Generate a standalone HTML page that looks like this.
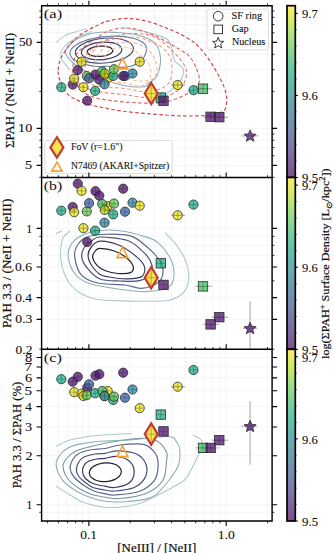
<!DOCTYPE html>
<html><head><meta charset="utf-8"><style>
html,body{margin:0;padding:0;background:#fff;width:334px;height:553px;overflow:hidden}
svg{display:block}
text{font-family:"Liberation Serif",serif}
</style></head><body><svg width="334" height="553" viewBox="0 0 334 553">
<rect width="334" height="553" fill="#fff"/>
<defs>
<clipPath id="cp0"><rect x="41.6" y="5.7" width="230.5" height="171.8"/></clipPath>
<clipPath id="cp1"><rect x="41.6" y="177.5" width="230.5" height="171.8"/></clipPath>
<clipPath id="cp2"><rect x="41.6" y="349.3" width="230.5" height="171.7"/></clipPath>
<linearGradient id="vir" x1="0" y1="1" x2="0" y2="0"><stop offset="0.0" stop-color="#7c4d87"/><stop offset="0.1" stop-color="#7f669e"/><stop offset="0.2" stop-color="#7a7cab"/><stop offset="0.3" stop-color="#728faf"/><stop offset="0.4" stop-color="#6aa0b0"/><stop offset="0.5" stop-color="#64b2ae"/><stop offset="0.6" stop-color="#64c2a9"/><stop offset="0.7" stop-color="#7cd29b"/><stop offset="0.8" stop-color="#a2df85"/><stop offset="0.9" stop-color="#d1e967"/><stop offset="1.0" stop-color="#feee66"/></linearGradient>
</defs>
<path d="M47.6 5.7V177.5M58.4 5.7V177.5M67.6 5.7V177.5M75.6 5.7V177.5M82.6 5.7V177.5M88.9 5.7V177.5M130.2 5.7V177.5M154.4 5.7V177.5M171.6 5.7V177.5M184.9 5.7V177.5M195.7 5.7V177.5M204.9 5.7V177.5M212.9 5.7V177.5M219.9 5.7V177.5M226.2 5.7V177.5M267.5 5.7V177.5M41.6 165.4H272.1M41.6 155.7H272.1M41.6 147.5H272.1M41.6 140.3H272.1M41.6 134.0H272.1M41.6 128.4H272.1M41.6 91.4H272.1M41.6 69.7H272.1M41.6 54.3H272.1M41.6 42.4H272.1M41.6 32.7H272.1M41.6 24.5H272.1M41.6 17.3H272.1M41.6 11.0H272.1" stroke="#f2f2f2" stroke-width="0.8" fill="none"/>
<path d="M47.6 177.5V349.3M58.4 177.5V349.3M67.6 177.5V349.3M75.6 177.5V349.3M82.6 177.5V349.3M88.9 177.5V349.3M130.2 177.5V349.3M154.4 177.5V349.3M171.6 177.5V349.3M184.9 177.5V349.3M195.7 177.5V349.3M204.9 177.5V349.3M212.9 177.5V349.3M219.9 177.5V349.3M226.2 177.5V349.3M267.5 177.5V349.3M41.6 319.4H272.1M41.6 297.6H272.1M41.6 280.8H272.1M41.6 267.0H272.1M41.6 255.4H272.1M41.6 245.3H272.1M41.6 236.4H272.1M41.6 228.4H272.1" stroke="#f2f2f2" stroke-width="0.8" fill="none"/>
<path d="M47.6 349.3V521.0M58.4 349.3V521.0M67.6 349.3V521.0M75.6 349.3V521.0M82.6 349.3V521.0M88.9 349.3V521.0M130.2 349.3V521.0M154.4 349.3V521.0M171.6 349.3V521.0M184.9 349.3V521.0M195.7 349.3V521.0M204.9 349.3V521.0M212.9 349.3V521.0M219.9 349.3V521.0M226.2 349.3V521.0M267.5 349.3V521.0M41.6 512.3H272.1M41.6 504.8H272.1M41.6 455.7H272.1M41.6 427.0H272.1M41.6 406.6H272.1M41.6 390.8H272.1M41.6 377.9H272.1M41.6 367.0H272.1M41.6 357.5H272.1" stroke="#f2f2f2" stroke-width="0.8" fill="none"/>
<path d="M112.8 50.6C112.8 50.9 112.7 51.2 112.6 51.5C112.5 51.8 112.3 52.1 112.0 52.4C111.8 52.7 111.5 53.0 111.1 53.2C110.7 53.5 110.3 53.8 109.8 54.1C109.3 54.3 108.8 54.6 108.2 54.8C107.7 55.0 107.0 55.2 106.4 55.4C105.8 55.6 105.1 55.7 104.4 55.9C103.7 56.0 103.0 56.1 102.2 56.2C101.5 56.3 100.7 56.4 100.0 56.4C99.3 56.4 98.5 56.4 97.8 56.4C97.0 56.4 96.3 56.4 95.6 56.3C94.9 56.2 94.2 56.1 93.6 56.0C93.0 55.9 92.3 55.8 91.8 55.6C91.2 55.4 90.7 55.2 90.2 55.0C89.7 54.8 89.3 54.6 88.9 54.4C88.5 54.1 88.2 53.9 88.0 53.6C87.7 53.3 87.5 53.0 87.4 52.7C87.3 52.4 87.2 52.1 87.2 51.8C87.2 51.5 87.3 51.2 87.4 50.9C87.5 50.6 87.7 50.3 88.0 50.1C88.2 49.8 88.5 49.5 88.9 49.2C89.3 48.9 89.7 48.7 90.2 48.4C90.7 48.2 91.2 47.9 91.8 47.7C92.3 47.5 93.0 47.3 93.6 47.1C94.2 46.9 94.9 46.8 95.6 46.6C96.3 46.5 97.0 46.4 97.8 46.3C98.5 46.2 99.3 46.1 100.0 46.1C100.7 46.1 101.5 46.1 102.2 46.1C103.0 46.1 103.7 46.1 104.4 46.2C105.1 46.3 105.8 46.3 106.4 46.5C107.0 46.6 107.7 46.7 108.2 46.9C108.8 47.0 109.3 47.2 109.8 47.4C110.3 47.6 110.7 47.9 111.1 48.1C111.5 48.3 111.8 48.6 112.0 48.9C112.3 49.1 112.5 49.4 112.6 49.7C112.7 50.0 112.8 50.3 112.8 50.6Z" stroke="#20202e" stroke-width="1.20" fill="none" clip-path="url(#cp0)"/>
<path d="M121.8 49.6C121.8 50.1 121.7 50.6 121.5 51.1C121.3 51.7 121.0 52.2 120.6 52.7C120.2 53.2 119.7 53.7 119.1 54.1C118.6 54.6 117.9 55.1 117.2 55.5C116.4 56.0 115.6 56.4 114.7 56.8C113.8 57.2 112.9 57.5 111.9 57.8C110.9 58.2 109.8 58.5 108.8 58.7C107.7 58.9 106.6 59.2 105.4 59.3C104.3 59.5 103.2 59.6 102.0 59.7C100.8 59.8 99.6 59.8 98.4 59.8C97.2 59.8 96.1 59.8 95.0 59.7C93.8 59.6 92.7 59.4 91.7 59.3C90.7 59.1 89.7 58.9 88.8 58.6C87.8 58.3 87.0 58.0 86.2 57.7C85.5 57.4 84.8 57.0 84.2 56.6C83.6 56.2 83.1 55.8 82.6 55.3C82.2 54.9 81.9 54.4 81.7 53.9C81.5 53.4 81.4 52.9 81.4 52.4C81.4 51.9 81.5 51.4 81.7 50.9C81.9 50.4 82.2 49.9 82.6 49.3C83.1 48.8 83.6 48.3 84.2 47.8C84.8 47.4 85.5 46.9 86.2 46.4C87.0 46.0 87.8 45.6 88.8 45.2C89.7 44.8 90.7 44.4 91.7 44.1C92.7 43.8 93.8 43.5 95.0 43.2C96.1 43.0 97.2 42.8 98.4 42.6C99.6 42.4 100.8 42.3 102.0 42.2C103.2 42.1 104.3 42.1 105.4 42.1C106.6 42.1 107.7 42.2 108.8 42.3C109.8 42.4 110.9 42.5 111.9 42.7C112.9 42.9 113.8 43.1 114.7 43.4C115.6 43.6 116.4 43.9 117.2 44.3C117.9 44.6 118.6 45.0 119.1 45.4C119.7 45.8 120.2 46.2 120.6 46.7C121.0 47.1 121.3 47.6 121.5 48.1C121.7 48.6 121.8 49.1 121.8 49.6Z" stroke="#363a60" stroke-width="1.20" fill="none" clip-path="url(#cp0)"/>
<path d="M133.4 48.6C133.4 49.3 133.3 50.0 133.0 50.8C132.7 51.5 132.2 52.2 131.7 52.9C131.1 53.6 130.4 54.4 129.5 55.0C128.7 55.7 127.7 56.4 126.6 57.0C125.5 57.6 124.3 58.2 123.0 58.8C121.8 59.3 120.4 59.9 118.9 60.3C117.4 60.8 115.9 61.2 114.3 61.6C112.7 61.9 111.1 62.2 109.4 62.5C107.8 62.7 106.1 62.9 104.4 63.0C102.7 63.1 101.0 63.2 99.4 63.2C97.7 63.2 96.1 63.1 94.5 62.9C92.9 62.8 91.4 62.6 89.9 62.4C88.4 62.1 87.0 61.8 85.8 61.4C84.5 61.0 83.3 60.6 82.2 60.1C81.1 59.7 80.1 59.1 79.3 58.6C78.4 58.0 77.7 57.4 77.1 56.7C76.6 56.1 76.1 55.4 75.8 54.8C75.5 54.1 75.4 53.3 75.4 52.6C75.4 51.9 75.5 51.2 75.8 50.4C76.1 49.7 76.6 49.0 77.1 48.3C77.7 47.6 78.4 46.8 79.3 46.2C80.1 45.5 81.1 44.8 82.2 44.2C83.3 43.6 84.5 43.0 85.8 42.4C87.0 41.9 88.4 41.3 89.9 40.9C91.4 40.4 92.9 40.0 94.5 39.6C96.1 39.3 97.7 39.0 99.4 38.7C101.0 38.5 102.7 38.3 104.4 38.2C106.1 38.1 107.8 38.0 109.4 38.0C111.1 38.0 112.7 38.1 114.3 38.3C115.9 38.4 117.4 38.6 118.9 38.8C120.4 39.1 121.8 39.4 123.0 39.8C124.3 40.2 125.5 40.6 126.6 41.1C127.7 41.5 128.7 42.1 129.5 42.6C130.4 43.2 131.1 43.8 131.7 44.5C132.2 45.1 132.7 45.8 133.0 46.4C133.3 47.1 133.4 47.9 133.4 48.6Z" stroke="#3f4574" stroke-width="1.15" fill="none" clip-path="url(#cp0)"/>
<path d="M146.5 48.5C146.5 49.6 146.3 51.3 145.9 52.7C145.5 54.1 145.0 55.4 144.2 56.7C143.5 58.0 142.5 59.2 141.4 60.3C140.3 61.3 139.0 62.3 137.6 63.2C136.2 64.1 134.6 64.8 132.9 65.4C131.2 66.0 129.4 66.4 127.5 66.8C125.6 67.1 123.6 67.3 121.5 67.3C119.4 67.4 117.3 67.3 115.1 67.1C112.9 67.0 110.7 66.4 108.5 66.3C106.3 66.2 104.0 66.5 101.8 66.5C99.6 66.4 97.4 66.3 95.3 66.2C93.2 66.0 91.2 65.7 89.2 65.4C87.3 65.0 85.5 64.6 83.8 64.2C82.0 63.7 80.4 63.1 79.0 62.5C77.6 61.9 76.3 61.3 75.2 60.6C74.0 59.8 73.1 59.1 72.3 58.3C71.6 57.5 71.0 56.6 70.6 55.8C70.2 54.9 70.0 54.0 70.0 53.1C70.0 52.2 70.2 51.4 70.6 50.6C71.0 49.7 71.6 48.8 72.3 48.0C73.1 47.2 74.0 46.3 75.2 45.6C76.3 44.8 77.6 44.0 79.0 43.2C80.4 42.5 82.0 41.8 83.8 41.2C85.5 40.5 87.3 39.9 89.2 39.4C91.2 38.9 93.2 38.4 95.3 38.0C97.4 37.6 99.6 37.2 101.8 36.9C104.0 36.6 106.3 36.4 108.5 36.3C110.7 36.2 112.9 36.1 115.1 36.1C117.3 36.1 119.4 36.2 121.5 36.4C123.6 36.6 125.6 36.8 127.5 37.1C129.4 37.4 131.2 37.8 132.9 38.2C134.6 38.7 136.2 39.2 137.6 39.7C139.0 40.3 140.3 40.9 141.4 41.6C142.5 42.2 143.5 43.0 144.2 43.7C145.0 44.4 145.5 45.2 145.9 46.0C146.3 46.8 146.5 47.4 146.5 48.5Z" stroke="#637d96" stroke-width="1.10" fill="none" clip-path="url(#cp0)"/>
<path d="M66.0 54.5C64.0 51.0 66.3 49.5 68.0 47.0C69.7 44.5 72.7 41.6 76.0 39.5C79.3 37.4 84.0 35.7 88.0 34.5C92.0 33.3 95.5 32.6 100.0 32.3C104.5 31.9 109.2 32.0 115.0 32.4C120.8 32.8 129.2 33.3 135.0 34.5C140.8 35.7 146.3 37.6 150.0 39.5C153.7 41.4 155.4 43.9 157.0 46.0C158.6 48.1 158.9 49.3 159.5 52.0C160.1 54.7 160.9 58.0 160.5 62.0C160.1 66.0 158.8 72.6 157.0 76.0C155.2 79.4 152.2 80.7 150.0 82.5C147.8 84.3 147.7 86.2 143.5 86.7C139.3 87.2 131.4 86.9 125.0 85.8C118.6 84.7 112.5 83.0 105.0 80.0C97.5 77.0 86.5 72.2 80.0 68.0C73.5 63.8 68.0 58.0 66.0 54.5Z" stroke="#8aabb5" stroke-width="1.10" fill="none" clip-path="url(#cp0)"/>
<path d="M70.0 70.0C68.7 68.3 63.5 62.8 62.0 60.0C60.5 57.2 60.5 55.2 60.8 53.0C61.1 50.8 62.5 48.8 64.0 47.0C65.5 45.2 67.2 43.9 70.0 42.0C72.8 40.1 77.3 37.2 81.0 35.5C84.7 33.8 90.2 32.2 92.0 31.5" stroke="#abcbcb" stroke-width="1.10" fill="none" clip-path="url(#cp0)"/>
<path d="M56.0 42.6C57.7 41.3 62.2 36.9 66.0 35.0C69.8 33.1 75.4 32.1 78.7 31.0C82.0 29.9 84.8 28.9 86.0 28.5" stroke="#b9d4d4" stroke-width="1.10" fill="none" clip-path="url(#cp0)"/>
<path d="M124.4 27.8C128.7 28.7 142.8 31.1 150.0 33.0C157.2 35.0 163.8 36.7 167.5 39.5C171.2 42.3 170.8 46.5 172.0 50.0C173.2 53.5 172.7 57.7 174.5 60.8C176.3 63.9 181.9 65.4 183.0 68.5C184.1 71.6 183.3 75.7 181.0 79.6C178.7 83.5 172.4 88.9 169.0 91.8C165.6 94.7 164.0 96.0 160.8 97.2C157.6 98.4 151.8 98.7 150.0 99.0" stroke="#abcbcb" stroke-width="1.10" fill="none" clip-path="url(#cp0)"/>
<path d="M100.0 75.0C99.5 72.5 101.3 66.2 103.0 62.0C104.7 57.8 105.6 52.3 110.0 50.0C114.4 47.7 124.0 47.0 129.2 48.0C134.4 49.0 137.6 53.0 141.1 56.0C144.6 59.0 148.6 62.2 150.0 66.0C151.4 69.8 151.1 76.5 149.4 79.0C147.7 81.5 144.1 81.1 140.0 81.0C135.9 80.9 130.7 79.2 125.0 78.5C119.3 77.8 110.2 77.6 106.0 77.0C101.8 76.4 100.5 77.5 100.0 75.0Z" stroke="#f9c3a6" stroke-width="1.10" fill="none" stroke-dasharray="3.6,2.4" clip-path="url(#cp0)"/>
<path d="M92.0 80.0C91.5 77.8 92.0 72.2 93.0 68.0C94.0 63.8 95.2 58.9 98.0 55.0C100.8 51.1 104.0 46.5 110.0 44.5C116.0 42.5 127.6 42.1 134.0 43.0C140.4 43.9 144.6 46.8 148.3 50.0C152.0 53.2 154.7 57.8 156.0 62.0C157.3 66.2 157.3 71.7 156.0 75.0C154.7 78.3 151.1 80.1 148.4 82.0C145.7 83.9 143.9 86.2 140.0 86.4C136.1 86.6 130.7 83.7 125.0 83.0C119.3 82.3 110.6 82.5 105.8 82.2C101.0 81.9 98.3 81.4 96.0 81.0C93.7 80.6 92.5 82.2 92.0 80.0Z" stroke="#f6b092" stroke-width="1.10" fill="none" stroke-dasharray="3.6,2.4" clip-path="url(#cp0)"/>
<path d="M84.0 80.0C83.2 77.3 84.3 71.7 85.0 68.0C85.7 64.3 86.2 61.6 88.4 58.0C90.6 54.4 94.4 49.5 98.0 46.5C101.6 43.5 104.0 41.5 110.0 40.0C116.0 38.5 127.0 37.0 134.0 37.3C141.0 37.6 146.8 39.9 152.0 42.0C157.2 44.1 161.8 46.7 165.0 50.0C168.2 53.3 170.5 57.0 171.4 62.0C172.3 67.0 172.1 75.8 170.4 80.2C168.7 84.6 165.1 86.5 161.0 88.5C156.9 90.5 152.0 92.0 146.0 92.0C140.0 92.0 132.3 89.4 125.0 88.5C117.7 87.6 107.8 87.5 102.0 86.7C96.2 86.0 93.0 85.1 90.0 84.0C87.0 82.9 84.8 82.7 84.0 80.0Z" stroke="#f29b80" stroke-width="1.10" fill="none" stroke-dasharray="3.6,2.4" clip-path="url(#cp0)"/>
<path d="M78.0 82.0C76.7 78.7 77.5 71.7 78.0 68.0C78.5 64.3 79.0 62.8 81.0 60.0C83.0 57.2 87.2 53.6 90.0 51.0C92.8 48.4 93.8 46.8 98.0 44.4C102.2 42.0 109.0 38.3 115.0 36.5C121.0 34.7 127.3 33.4 134.0 33.5C140.7 33.6 148.4 33.9 155.0 37.0C161.6 40.1 168.5 47.1 173.5 52.0C178.5 56.9 182.9 62.2 185.0 66.5C187.1 70.8 186.8 74.3 186.0 78.0C185.2 81.7 183.2 85.5 180.0 88.5C176.8 91.5 172.7 94.5 167.0 96.0C161.3 97.5 153.0 97.7 146.0 97.5C139.0 97.3 132.7 95.6 125.0 94.7C117.3 93.8 106.5 93.1 100.0 92.0C93.5 90.9 89.7 89.7 86.0 88.0C82.3 86.3 79.3 85.3 78.0 82.0Z" stroke="#e98070" stroke-width="1.10" fill="none" stroke-dasharray="3.6,2.4" clip-path="url(#cp0)"/>
<path d="M73.0 79.0C71.9 75.3 72.5 70.0 73.0 66.0C73.5 62.0 74.3 58.1 76.0 55.0C77.7 51.9 79.5 50.4 83.0 47.5C86.5 44.6 92.5 40.3 97.0 37.5C101.5 34.7 105.0 32.1 110.0 30.5C115.0 28.9 121.0 27.8 127.0 28.0C133.0 28.2 139.7 29.8 146.0 32.0C152.3 34.2 159.0 37.8 165.0 41.0C171.0 44.2 177.8 48.3 182.0 51.0C186.2 53.7 187.7 54.2 190.0 57.0C192.3 59.8 194.4 63.8 196.0 67.5C197.6 71.2 199.3 76.4 199.5 79.5C199.7 82.6 198.1 84.2 197.0 86.0C195.9 87.8 196.3 88.3 193.0 90.4C189.7 92.5 182.8 96.4 177.0 98.5C171.2 100.6 166.7 102.4 158.0 103.0C149.3 103.6 134.7 102.7 125.0 102.0C115.3 101.3 106.2 100.0 100.0 98.8C93.8 97.6 91.2 96.5 87.8 94.7C84.4 92.9 82.1 90.6 79.6 88.0C77.1 85.4 74.1 82.7 73.0 79.0Z" stroke="#df6a5f" stroke-width="1.20" fill="none" stroke-dasharray="3.6,2.4" clip-path="url(#cp0)"/>
<path d="M58.2 70.0C58.4 66.3 59.0 62.2 61.0 58.0C63.0 53.8 66.8 48.3 70.0 44.5C73.2 40.7 75.7 38.1 80.0 35.0C84.3 31.9 91.0 28.4 96.0 26.0C101.0 23.6 104.5 21.8 110.0 20.5C115.5 19.2 122.7 18.3 129.0 18.5C135.3 18.7 142.0 20.0 148.0 21.5C154.0 23.0 159.7 25.4 165.0 27.5C170.3 29.6 175.7 31.9 180.0 34.0C184.3 36.1 188.2 38.6 191.0 40.4C193.8 42.2 194.7 42.7 197.0 45.0C199.3 47.3 202.2 50.2 205.0 54.0C207.8 57.8 211.3 63.0 214.0 67.5C216.7 72.0 219.4 76.8 221.4 81.0C223.4 85.2 225.2 89.3 226.0 93.0C226.8 96.7 226.8 100.1 226.5 103.0C226.2 105.9 226.4 108.6 224.0 110.6C221.6 112.5 217.7 113.8 212.0 114.7C206.3 115.6 197.8 116.0 190.0 116.0C182.2 116.0 175.8 115.8 165.0 115.0C154.2 114.2 135.8 112.8 125.0 111.5C114.2 110.2 105.9 108.2 100.0 107.0C94.1 105.8 93.5 105.8 89.5 104.6C85.5 103.4 80.1 101.6 76.3 99.7C72.5 97.8 69.2 96.3 66.4 93.0C63.7 89.7 61.2 83.8 59.8 80.0C58.4 76.2 58.0 73.7 58.2 70.0Z" stroke="#d04848" stroke-width="1.20" fill="none" stroke-dasharray="3.6,2.4" clip-path="url(#cp0)"/>
<path d="M92.6 257.3C92.3 254.9 94.1 252.5 95.3 251.0C96.5 249.5 96.8 248.3 100.0 248.3C103.2 248.3 109.9 249.3 114.4 251.0C118.9 252.7 123.9 255.6 127.0 258.2C130.1 260.8 132.6 263.9 133.2 266.3C133.8 268.7 133.0 271.4 130.5 272.6C128.0 273.8 122.2 273.8 118.0 273.5C113.8 273.2 108.9 272.2 105.4 270.8C101.9 269.4 99.1 267.6 97.0 265.4C94.9 263.1 92.9 259.7 92.6 257.3Z" stroke="#20202e" stroke-width="1.20" fill="none" clip-path="url(#cp1)"/>
<path d="M88.1 255.5C88.0 252.2 89.7 248.9 91.7 246.5C93.7 244.1 95.6 241.5 100.0 241.2C104.4 240.9 112.3 242.5 118.0 244.7C123.7 246.9 129.7 251.2 134.0 254.6C138.3 258.1 142.6 261.8 144.0 265.4C145.4 269.0 145.0 273.9 142.2 276.2C139.4 278.4 132.5 278.8 127.0 278.9C121.5 279.0 113.5 277.8 109.0 277.0C104.5 276.2 102.8 276.2 100.0 274.4C97.2 272.6 94.0 269.1 92.0 266.0C90.0 262.9 88.1 258.8 88.1 255.5Z" stroke="#363a60" stroke-width="1.20" fill="none" clip-path="url(#cp1)"/>
<path d="M81.8 257.3C81.3 254.0 82.3 250.7 84.0 248.0C85.7 245.3 89.0 242.8 91.7 241.0C94.4 239.2 94.1 237.1 100.0 237.0C105.9 236.9 120.1 238.1 127.0 240.3C133.9 242.5 137.4 246.7 141.3 250.1C145.2 253.5 148.5 257.0 150.3 260.9C152.1 264.8 153.8 270.2 152.0 273.5C150.2 276.8 144.8 279.4 139.5 280.7C134.2 281.9 126.6 281.3 120.0 281.0C113.4 280.7 105.5 281.2 100.0 279.0C94.5 276.8 90.2 271.6 87.2 268.0C84.2 264.4 82.3 260.6 81.8 257.3Z" stroke="#4a5079" stroke-width="1.20" fill="none" clip-path="url(#cp1)"/>
<path d="M74.6 256.4C73.9 251.6 75.3 249.1 77.0 246.0C78.7 242.9 81.2 239.9 85.0 238.0C88.8 236.1 92.4 234.9 100.0 234.5C107.6 234.1 122.4 233.5 130.5 235.8C138.6 238.1 144.1 244.8 148.5 248.3C152.9 251.8 154.7 254.1 157.0 257.0C159.3 259.9 161.7 262.4 162.4 266.0C163.2 269.6 163.1 275.2 161.5 278.5C159.9 281.8 156.2 284.1 152.6 285.7C149.0 287.3 144.6 288.4 140.0 288.3C135.4 288.2 132.1 285.9 125.0 285.0C118.0 284.1 105.0 284.7 97.7 283.0C90.4 281.3 84.8 279.0 81.0 274.6C77.2 270.2 75.3 261.2 74.6 256.4Z" stroke="#5a6a8c" stroke-width="1.20" fill="none" clip-path="url(#cp1)"/>
<path d="M68.3 257.3C67.6 252.4 68.9 248.2 71.0 244.7C73.1 241.1 76.1 238.4 80.9 236.0C85.7 233.6 93.2 231.3 100.0 230.5C106.8 229.7 114.0 230.0 121.5 231.0C129.0 232.0 138.8 234.7 144.9 236.6C151.0 238.5 153.7 238.9 158.0 242.6C162.3 246.3 167.8 253.6 170.5 258.7C173.2 263.8 174.1 268.6 174.1 273.1C174.1 277.6 173.2 282.8 170.5 285.7C167.8 288.6 163.1 289.5 158.0 290.5C152.9 291.5 148.0 291.9 140.0 291.5C132.0 291.1 118.7 289.2 110.0 287.8C101.3 286.4 93.8 285.3 88.0 283.0C82.2 280.7 78.3 278.3 75.0 274.0C71.7 269.7 69.0 262.2 68.3 257.3Z" stroke="#8bb0b4" stroke-width="1.10" fill="none" clip-path="url(#cp1)"/>
<path d="M70.0 231.0C68.8 232.2 64.6 234.8 63.0 238.0C61.4 241.2 60.9 246.0 60.6 250.0C60.3 254.0 60.6 258.2 61.2 262.0C61.8 265.8 62.5 269.3 64.0 273.0C65.5 276.7 67.3 280.7 70.0 284.0C72.7 287.3 75.8 290.5 80.0 293.0C84.2 295.5 89.2 297.7 95.0 299.0C100.8 300.3 107.5 300.2 115.0 300.6C122.5 301.0 131.2 301.2 140.0 301.2C148.8 301.2 160.9 301.8 168.0 300.5C175.1 299.2 179.0 296.4 182.3 293.7C185.6 290.9 187.0 287.6 188.0 284.0C189.0 280.4 189.0 276.2 188.5 272.0C188.0 267.8 187.0 263.6 184.9 259.0C182.8 254.4 179.2 248.8 175.9 244.4C172.6 240.0 166.9 234.6 165.1 232.7" stroke="#abcbcb" stroke-width="1.10" fill="none" clip-path="url(#cp1)"/>
<path d="M56.0 233.5C57.0 233.1 61.0 231.4 62.0 231.0" stroke="#abcbcb" stroke-width="1.10" fill="none" clip-path="url(#cp1)"/>
<path d="M121.3 471.6C121.3 472.5 121.0 473.6 120.5 474.5C120.0 475.4 119.2 476.4 118.3 477.2C117.3 478.0 116.1 478.8 114.8 479.4C113.5 480.1 111.9 480.6 110.4 480.9C108.8 481.3 107.1 481.5 105.5 481.6C103.9 481.7 102.1 481.6 100.5 481.3C98.9 481.1 97.3 480.7 96.0 480.2C94.6 479.7 93.4 479.0 92.4 478.2C91.4 477.5 90.6 476.6 90.1 475.7C89.6 474.8 89.3 473.8 89.3 472.8C89.3 471.9 89.6 470.9 90.1 469.9C90.6 469.0 91.4 468.1 92.4 467.3C93.4 466.4 94.6 465.7 96.0 465.1C97.3 464.4 98.9 463.9 100.5 463.6C102.1 463.2 103.9 463.0 105.5 462.9C107.1 462.8 108.8 462.9 110.4 463.2C111.9 463.4 113.5 463.8 114.8 464.3C116.1 464.8 117.3 465.5 118.3 466.2C119.2 467.0 120.0 467.8 120.5 468.7C121.0 469.6 121.3 470.6 121.3 471.6Z" stroke="#20202e" stroke-width="1.20" fill="none" clip-path="url(#cp2)"/>
<path d="M82.6 472.0C82.3 469.8 82.9 467.3 84.0 465.5C85.1 463.7 86.8 462.1 89.0 461.0C91.2 459.9 94.3 459.4 97.0 459.0C99.7 458.6 101.7 458.7 105.0 458.3C108.3 457.9 112.9 456.0 117.0 456.5C121.1 457.0 126.5 458.5 129.4 461.1C132.3 463.7 134.2 468.3 134.2 471.9C134.2 475.5 132.6 480.1 129.4 482.7C126.2 485.3 119.1 486.9 115.0 487.5C110.9 488.1 108.7 486.9 105.0 486.2C101.3 485.5 96.2 484.8 93.0 483.5C89.8 482.2 87.2 480.4 85.5 478.5C83.8 476.6 82.8 474.2 82.6 472.0Z" stroke="#363a60" stroke-width="1.20" fill="none" clip-path="url(#cp2)"/>
<path d="M76.4 470.0C76.4 467.8 77.2 464.7 78.5 462.5C79.8 460.3 81.2 458.4 84.0 457.0C86.8 455.6 91.5 454.6 95.0 454.0C98.5 453.4 101.2 453.8 105.0 453.3C108.8 452.8 112.7 450.7 118.0 450.8C123.3 450.9 131.9 451.7 136.6 454.0C141.3 456.3 144.7 460.7 146.1 464.7C147.5 468.7 146.9 474.1 144.9 477.9C142.9 481.7 139.2 485.3 134.2 487.5C129.2 489.7 119.9 490.6 115.0 491.0C110.1 491.4 108.7 490.6 105.0 490.0C101.3 489.4 96.5 488.9 93.0 487.5C89.5 486.1 86.4 483.4 84.0 481.5C81.6 479.6 79.8 477.9 78.5 476.0C77.2 474.1 76.4 472.2 76.4 470.0Z" stroke="#4a5079" stroke-width="1.20" fill="none" clip-path="url(#cp2)"/>
<path d="M70.1 468.5C69.8 465.7 71.2 462.4 72.5 460.0C73.8 457.6 75.1 455.7 78.0 454.0C80.9 452.3 85.5 450.9 90.0 450.0C94.5 449.1 100.0 449.3 105.0 448.5C110.0 447.7 113.5 445.7 120.0 445.0C126.5 444.3 137.8 442.9 143.7 444.4C149.6 445.9 153.3 450.4 155.7 454.0C158.1 457.6 158.3 461.5 158.1 465.9C157.9 470.3 157.7 476.0 154.5 480.3C151.3 484.6 145.6 489.1 139.0 491.5C132.4 493.9 120.7 494.6 115.0 495.0C109.3 495.4 108.5 494.4 105.0 493.7C101.5 493.0 97.5 492.4 94.0 491.0C90.5 489.6 87.3 487.8 84.0 485.5C80.7 483.2 76.3 479.8 74.0 477.0C71.7 474.2 70.3 471.3 70.1 468.5Z" stroke="#5a6a8c" stroke-width="1.20" fill="none" clip-path="url(#cp2)"/>
<path d="M63.0 466.3C62.8 462.8 64.8 460.6 67.0 458.0C69.2 455.4 71.3 453.1 76.0 451.0C80.7 448.9 88.5 447.1 95.0 445.5C101.5 443.9 107.3 442.7 115.0 441.5C122.7 440.3 134.3 438.5 141.3 438.4C148.3 438.3 152.8 438.7 157.0 441.0C161.2 443.3 164.9 448.6 166.5 452.0C168.1 455.4 167.1 456.4 166.5 461.1C165.9 465.8 166.3 474.9 162.9 480.3C159.5 485.7 153.2 490.5 146.1 493.5C138.9 496.5 126.8 497.9 120.0 498.5C113.2 499.1 109.7 497.9 105.0 497.2C100.3 496.5 96.2 495.9 92.0 494.5C87.8 493.1 84.0 491.6 80.0 489.0C76.0 486.4 70.8 482.8 68.0 479.0C65.2 475.2 63.2 469.8 63.0 466.3Z" stroke="#7896a4" stroke-width="1.10" fill="none" clip-path="url(#cp2)"/>
<path d="M56.1 464.5C55.9 460.7 58.0 457.8 60.0 455.0C62.0 452.2 64.5 449.9 68.0 448.0C71.5 446.1 74.7 445.1 80.9 443.9C87.1 442.7 96.8 441.6 105.0 441.0C113.2 440.4 119.5 440.8 130.0 440.0C140.5 439.2 160.2 436.1 168.0 436.5C175.8 436.9 175.0 440.0 177.0 442.5C179.0 445.0 179.8 447.6 180.0 451.4C180.2 455.1 179.8 461.0 178.5 465.0C177.2 469.0 176.7 470.1 172.5 475.4C168.3 480.6 160.9 492.1 153.3 496.5C145.7 500.9 135.1 500.7 127.0 501.5C119.0 502.3 112.0 502.2 105.0 501.2C98.0 500.2 90.8 497.9 85.0 495.5C79.2 493.1 74.0 489.9 70.0 487.0C66.0 484.1 63.3 481.8 61.0 478.0C58.7 474.2 56.3 468.3 56.1 464.5Z" stroke="#8bb0b4" stroke-width="1.10" fill="none" clip-path="url(#cp2)"/>
<path d="M55.8 446.5C58.2 445.4 64.3 441.7 70.0 440.0C75.7 438.3 84.2 437.2 90.0 436.3C95.8 435.4 98.0 435.3 105.0 434.9C112.0 434.4 127.3 433.8 131.8 433.6" stroke="#abcbcb" stroke-width="1.10" fill="none" clip-path="url(#cp2)"/>
<path d="M192.7 435.0C194.1 435.8 199.3 437.7 200.9 439.5C202.5 441.3 202.2 443.8 202.0 446.0C201.8 448.2 201.2 449.1 199.4 453.0C197.6 456.9 193.7 464.9 191.2 469.4C188.7 473.9 188.4 476.6 184.5 480.0C180.6 483.4 174.5 486.2 167.7 489.9C160.9 493.5 150.8 499.1 143.7 501.9C136.6 504.7 131.4 505.6 125.0 506.5C118.5 507.4 111.7 507.8 105.0 507.2C98.3 506.6 90.8 505.0 85.0 503.0C79.2 501.0 74.8 497.8 70.0 495.0C65.2 492.2 58.3 487.5 56.0 486.0" stroke="#abcbcb" stroke-width="1.10" fill="none" clip-path="url(#cp2)"/>
<g clip-path="url(#cp0)">
<path d="M241.5 135.9H258.3" stroke="#bdbdbd" stroke-width="1.4"/>
<path d="M171.0 85.0H185.0" stroke="#bdbdbd" stroke-width="1.4"/>
<path d="M195.5 88.7H212.0" stroke="#bdbdbd" stroke-width="1.4"/>
<path d="M203.1 116.8H219.6" stroke="#bdbdbd" stroke-width="1.4"/>
<path d="M211.8 117.2H228.3" stroke="#bdbdbd" stroke-width="1.4"/>
<g><circle cx="61.3" cy="87.2" r="4.6" fill="#1fb38a" fill-opacity="0.78" stroke="#2a2a2a" stroke-width="0.8"/><path d="M57.5 87.2h7.6M61.3 83.4v7.6" stroke="#333" stroke-width="0.5" opacity="0.7"/></g>
<g><circle cx="72.7" cy="84.6" r="4.6" fill="#581778" fill-opacity="0.78" stroke="#2a2a2a" stroke-width="0.8"/><path d="M68.9 84.6h7.6M72.7 80.8v7.6" stroke="#333" stroke-width="0.5" opacity="0.7"/></g>
<g><circle cx="74.2" cy="78.7" r="4.6" fill="#eee41f" fill-opacity="0.78" stroke="#2a2a2a" stroke-width="0.8"/><path d="M70.4 78.7h7.6M74.2 74.9v7.6" stroke="#333" stroke-width="0.5" opacity="0.7"/></g>
<g><circle cx="77.8" cy="70.0" r="4.6" fill="#581778" fill-opacity="0.78" stroke="#2a2a2a" stroke-width="0.8"/><path d="M74.0 70.0h7.6M77.8 66.2v7.6" stroke="#333" stroke-width="0.5" opacity="0.7"/></g>
<g><circle cx="81.6" cy="61.7" r="4.6" fill="#eee41f" fill-opacity="0.78" stroke="#2a2a2a" stroke-width="0.8"/><path d="M77.8 61.7h7.6M81.6 57.9v7.6" stroke="#333" stroke-width="0.5" opacity="0.7"/></g>
<g><circle cx="83.4" cy="87.2" r="4.6" fill="#eee41f" fill-opacity="0.78" stroke="#2a2a2a" stroke-width="0.8"/><path d="M79.6 87.2h7.6M83.4 83.4v7.6" stroke="#333" stroke-width="0.5" opacity="0.7"/></g>
<g><circle cx="87.2" cy="100.7" r="4.6" fill="#581778" fill-opacity="0.78" stroke="#2a2a2a" stroke-width="0.8"/><path d="M83.4 100.7h7.6M87.2 96.9v7.6" stroke="#333" stroke-width="0.5" opacity="0.7"/></g>
<g><circle cx="86.8" cy="76.0" r="4.6" fill="#67cd55" fill-opacity="0.78" stroke="#2a2a2a" stroke-width="0.8"/><path d="M83.0 76.0h7.6M86.8 72.2v7.6" stroke="#333" stroke-width="0.5" opacity="0.7"/></g>
<g><circle cx="89.1" cy="78.2" r="4.6" fill="#4069ae" fill-opacity="0.78" stroke="#2a2a2a" stroke-width="0.8"/><path d="M85.3 78.2h7.6M89.1 74.4v7.6" stroke="#333" stroke-width="0.5" opacity="0.7"/></g>
<g><circle cx="95.5" cy="74.5" r="4.6" fill="#581778" fill-opacity="0.78" stroke="#2a2a2a" stroke-width="0.8"/><path d="M91.7 74.5h7.6M95.5 70.7v7.6" stroke="#333" stroke-width="0.5" opacity="0.7"/></g>
<g><circle cx="95.1" cy="90.9" r="4.6" fill="#1fb38a" fill-opacity="0.78" stroke="#2a2a2a" stroke-width="0.8"/><path d="M91.3 90.9h7.6M95.1 87.1v7.6" stroke="#333" stroke-width="0.5" opacity="0.7"/></g>
<g><circle cx="99.3" cy="79.7" r="4.6" fill="#581778" fill-opacity="0.78" stroke="#2a2a2a" stroke-width="0.8"/><path d="M95.5 79.7h7.6M99.3 75.9v7.6" stroke="#333" stroke-width="0.5" opacity="0.7"/></g>
<g><circle cx="107.7" cy="78.0" r="4.6" fill="#eee41f" fill-opacity="0.78" stroke="#2a2a2a" stroke-width="0.8"/><path d="M103.9 78.0h7.6M107.7 74.2v7.6" stroke="#333" stroke-width="0.5" opacity="0.7"/></g>
<g><circle cx="102.2" cy="71.5" r="4.6" fill="#48c367" fill-opacity="0.78" stroke="#2a2a2a" stroke-width="0.8"/><path d="M98.4 71.5h7.6M102.2 67.7v7.6" stroke="#333" stroke-width="0.5" opacity="0.7"/></g>
<g><circle cx="104.7" cy="73.7" r="4.6" fill="#b9d20a" fill-opacity="0.78" stroke="#2a2a2a" stroke-width="0.8"/><path d="M100.9 73.7h7.6M104.7 69.9v7.6" stroke="#333" stroke-width="0.5" opacity="0.7"/></g>
<g><circle cx="104.5" cy="84.2" r="4.6" fill="#2c8cac" fill-opacity="0.78" stroke="#2a2a2a" stroke-width="0.8"/><path d="M100.7 84.2h7.6M104.5 80.4v7.6" stroke="#333" stroke-width="0.5" opacity="0.7"/></g>
<g><circle cx="125.0" cy="76.0" r="4.6" fill="#4069ae" fill-opacity="0.78" stroke="#2a2a2a" stroke-width="0.8"/><path d="M121.2 76.0h7.6M125.0 72.2v7.6" stroke="#333" stroke-width="0.5" opacity="0.7"/></g>
<g><circle cx="113.2" cy="76.0" r="4.6" fill="#1fb38a" fill-opacity="0.78" stroke="#2a2a2a" stroke-width="0.8"/><path d="M109.4 76.0h7.6M113.2 72.2v7.6" stroke="#333" stroke-width="0.5" opacity="0.7"/></g>
<g><circle cx="114.0" cy="69.2" r="4.6" fill="#67cd55" fill-opacity="0.78" stroke="#2a2a2a" stroke-width="0.8"/><path d="M110.2 69.2h7.6M114.0 65.4v7.6" stroke="#333" stroke-width="0.5" opacity="0.7"/></g>
<g><circle cx="123.2" cy="76.0" r="4.6" fill="#581778" fill-opacity="0.78" stroke="#2a2a2a" stroke-width="0.8"/><path d="M119.4 76.0h7.6M123.2 72.2v7.6" stroke="#333" stroke-width="0.5" opacity="0.7"/></g>
<g><circle cx="132.5" cy="73.5" r="4.6" fill="#2c8cac" fill-opacity="0.78" stroke="#2a2a2a" stroke-width="0.8"/><path d="M128.7 73.5h7.6M132.5 69.7v7.6" stroke="#333" stroke-width="0.5" opacity="0.7"/></g>
<g><circle cx="139.7" cy="61.7" r="4.6" fill="#eee41f" fill-opacity="0.78" stroke="#2a2a2a" stroke-width="0.8"/><path d="M135.9 61.7h7.6M139.7 57.9v7.6" stroke="#333" stroke-width="0.5" opacity="0.7"/></g>
<g><circle cx="177.7" cy="85.0" r="4.6" fill="#eee41f" fill-opacity="0.78" stroke="#2a2a2a" stroke-width="0.8"/><path d="M173.9 85.0h7.6M177.7 81.2v7.6" stroke="#333" stroke-width="0.5" opacity="0.7"/></g>
<g><circle cx="193.5" cy="90.2" r="4.6" fill="#1fb38a" fill-opacity="0.78" stroke="#2a2a2a" stroke-width="0.8"/><path d="M189.7 90.2h7.6M193.5 86.4v7.6" stroke="#333" stroke-width="0.5" opacity="0.7"/></g>
<g><rect x="198.3" y="84.0" width="9.4" height="9.4" fill="#48c367" fill-opacity="0.78" stroke="#2a2a2a" stroke-width="0.8"/><path d="M198.3 88.7h9.4M203.0 84.0v9.4" stroke="#333" stroke-width="0.5" opacity="0.7"/></g>
<g><rect x="156.1" y="92.9" width="9.4" height="9.4" fill="#1fb38a" fill-opacity="0.78" stroke="#2a2a2a" stroke-width="0.8"/><path d="M156.1 97.6h9.4M160.8 92.9v9.4" stroke="#333" stroke-width="0.5" opacity="0.7"/></g>
<g><rect x="158.8" y="96.1" width="9.4" height="9.4" fill="#581778" fill-opacity="0.78" stroke="#2a2a2a" stroke-width="0.8"/><path d="M158.8 100.8h9.4M163.5 96.1v9.4" stroke="#333" stroke-width="0.5" opacity="0.7"/></g>
<g><rect x="205.9" y="112.1" width="9.4" height="9.4" fill="#581778" fill-opacity="0.78" stroke="#2a2a2a" stroke-width="0.8"/><path d="M205.9 116.8h9.4M210.6 112.1v9.4" stroke="#333" stroke-width="0.5" opacity="0.7"/></g>
<g><rect x="214.6" y="112.5" width="9.4" height="9.4" fill="#581778" fill-opacity="0.78" stroke="#2a2a2a" stroke-width="0.8"/><path d="M214.6 117.2h9.4M219.3 112.5v9.4" stroke="#333" stroke-width="0.5" opacity="0.7"/></g>
<polygon points="122.5,58.3 127.9,68.9 117.1,68.9" fill="none" stroke="#f5a030" stroke-width="1.6"/>
<polygon points="151.2,82.8 157.7,93.5 151.2,104.2 144.7,93.5" fill="#f5e44a" stroke="#c43a35" stroke-width="2.2"/>
<path d="M146.2 93.5h10.0M151.2 84.8v17.4" stroke="#444" stroke-width="0.5" opacity="0.7"/>
<polygon points="250.1,129.9 251.8,133.9 256.1,134.3 252.8,137.1 253.8,141.3 250.1,139.0 246.4,141.3 247.4,137.1 244.1,134.3 248.4,133.9" fill="#581778" fill-opacity="0.78" stroke="#2a2a2a" stroke-width="0.8"/>
</g>
<g clip-path="url(#cp1)">
<path d="M242.9 328.3H257.2M250.1 301.4V349.3" stroke="#bdbdbd" stroke-width="1.4"/>
<path d="M171.0 215.3H185.0" stroke="#bdbdbd" stroke-width="1.4"/>
<path d="M195.5 286.4H212.0" stroke="#bdbdbd" stroke-width="1.4"/>
<path d="M203.1 324.4H219.6" stroke="#bdbdbd" stroke-width="1.4"/>
<path d="M211.8 317.2H228.3" stroke="#bdbdbd" stroke-width="1.4"/>
<g><circle cx="61.3" cy="210.7" r="4.6" fill="#1fb38a" fill-opacity="0.78" stroke="#2a2a2a" stroke-width="0.8"/><path d="M57.5 210.7h7.6M61.3 206.9v7.6" stroke="#333" stroke-width="0.5" opacity="0.7"/></g>
<g><circle cx="72.7" cy="207.0" r="4.6" fill="#581778" fill-opacity="0.78" stroke="#2a2a2a" stroke-width="0.8"/><path d="M68.9 207.0h7.6M72.7 203.2v7.6" stroke="#333" stroke-width="0.5" opacity="0.7"/></g>
<g><circle cx="74.2" cy="212.2" r="4.6" fill="#eee41f" fill-opacity="0.78" stroke="#2a2a2a" stroke-width="0.8"/><path d="M70.4 212.2h7.6M74.2 208.4v7.6" stroke="#333" stroke-width="0.5" opacity="0.7"/></g>
<g><circle cx="77.8" cy="183.7" r="4.6" fill="#581778" fill-opacity="0.78" stroke="#2a2a2a" stroke-width="0.8"/><path d="M74.0 183.7h7.6M77.8 179.9v7.6" stroke="#333" stroke-width="0.5" opacity="0.7"/></g>
<g><circle cx="81.6" cy="190.8" r="4.6" fill="#eee41f" fill-opacity="0.78" stroke="#2a2a2a" stroke-width="0.8"/><path d="M77.8 190.8h7.6M81.6 187.0v7.6" stroke="#333" stroke-width="0.5" opacity="0.7"/></g>
<g><circle cx="83.4" cy="228.2" r="4.6" fill="#eee41f" fill-opacity="0.78" stroke="#2a2a2a" stroke-width="0.8"/><path d="M79.6 228.2h7.6M83.4 224.4v7.6" stroke="#333" stroke-width="0.5" opacity="0.7"/></g>
<g><circle cx="87.2" cy="242.0" r="4.6" fill="#581778" fill-opacity="0.78" stroke="#2a2a2a" stroke-width="0.8"/><path d="M83.4 242.0h7.6M87.2 238.2v7.6" stroke="#333" stroke-width="0.5" opacity="0.7"/></g>
<g><circle cx="86.8" cy="211.4" r="4.6" fill="#67cd55" fill-opacity="0.78" stroke="#2a2a2a" stroke-width="0.8"/><path d="M83.0 211.4h7.6M86.8 207.6v7.6" stroke="#333" stroke-width="0.5" opacity="0.7"/></g>
<g><circle cx="89.1" cy="203.2" r="4.6" fill="#4069ae" fill-opacity="0.78" stroke="#2a2a2a" stroke-width="0.8"/><path d="M85.3 203.2h7.6M89.1 199.4v7.6" stroke="#333" stroke-width="0.5" opacity="0.7"/></g>
<g><circle cx="95.5" cy="191.2" r="4.6" fill="#581778" fill-opacity="0.78" stroke="#2a2a2a" stroke-width="0.8"/><path d="M91.7 191.2h7.6M95.5 187.4v7.6" stroke="#333" stroke-width="0.5" opacity="0.7"/></g>
<g><circle cx="95.1" cy="230.7" r="4.6" fill="#1fb38a" fill-opacity="0.78" stroke="#2a2a2a" stroke-width="0.8"/><path d="M91.3 230.7h7.6M95.1 226.9v7.6" stroke="#333" stroke-width="0.5" opacity="0.7"/></g>
<g><circle cx="99.3" cy="195.7" r="4.6" fill="#581778" fill-opacity="0.78" stroke="#2a2a2a" stroke-width="0.8"/><path d="M95.5 195.7h7.6M99.3 191.9v7.6" stroke="#333" stroke-width="0.5" opacity="0.7"/></g>
<g><circle cx="107.7" cy="206.2" r="4.6" fill="#eee41f" fill-opacity="0.78" stroke="#2a2a2a" stroke-width="0.8"/><path d="M103.9 206.2h7.6M107.7 202.4v7.6" stroke="#333" stroke-width="0.5" opacity="0.7"/></g>
<g><circle cx="102.2" cy="204.0" r="4.6" fill="#48c367" fill-opacity="0.78" stroke="#2a2a2a" stroke-width="0.8"/><path d="M98.4 204.0h7.6M102.2 200.2v7.6" stroke="#333" stroke-width="0.5" opacity="0.7"/></g>
<g><circle cx="104.7" cy="210.0" r="4.6" fill="#b9d20a" fill-opacity="0.78" stroke="#2a2a2a" stroke-width="0.8"/><path d="M100.9 210.0h7.6M104.7 206.2v7.6" stroke="#333" stroke-width="0.5" opacity="0.7"/></g>
<g><circle cx="104.5" cy="222.7" r="4.6" fill="#2c8cac" fill-opacity="0.78" stroke="#2a2a2a" stroke-width="0.8"/><path d="M100.7 222.7h7.6M104.5 218.9v7.6" stroke="#333" stroke-width="0.5" opacity="0.7"/></g>
<g><circle cx="125.0" cy="211.7" r="4.6" fill="#4069ae" fill-opacity="0.78" stroke="#2a2a2a" stroke-width="0.8"/><path d="M121.2 211.7h7.6M125.0 207.9v7.6" stroke="#333" stroke-width="0.5" opacity="0.7"/></g>
<g><circle cx="113.2" cy="214.4" r="4.6" fill="#1fb38a" fill-opacity="0.78" stroke="#2a2a2a" stroke-width="0.8"/><path d="M109.4 214.4h7.6M113.2 210.6v7.6" stroke="#333" stroke-width="0.5" opacity="0.7"/></g>
<g><circle cx="114.0" cy="203.6" r="4.6" fill="#67cd55" fill-opacity="0.78" stroke="#2a2a2a" stroke-width="0.8"/><path d="M110.2 203.6h7.6M114.0 199.8v7.6" stroke="#333" stroke-width="0.5" opacity="0.7"/></g>
<g><circle cx="123.2" cy="188.7" r="4.6" fill="#581778" fill-opacity="0.78" stroke="#2a2a2a" stroke-width="0.8"/><path d="M119.4 188.7h7.6M123.2 184.9v7.6" stroke="#333" stroke-width="0.5" opacity="0.7"/></g>
<g><circle cx="132.5" cy="202.7" r="4.6" fill="#2c8cac" fill-opacity="0.78" stroke="#2a2a2a" stroke-width="0.8"/><path d="M128.7 202.7h7.6M132.5 198.9v7.6" stroke="#333" stroke-width="0.5" opacity="0.7"/></g>
<g><circle cx="139.7" cy="205.7" r="4.6" fill="#eee41f" fill-opacity="0.78" stroke="#2a2a2a" stroke-width="0.8"/><path d="M135.9 205.7h7.6M139.7 201.9v7.6" stroke="#333" stroke-width="0.5" opacity="0.7"/></g>
<g><circle cx="177.7" cy="215.3" r="4.6" fill="#eee41f" fill-opacity="0.78" stroke="#2a2a2a" stroke-width="0.8"/><path d="M173.9 215.3h7.6M177.7 211.5v7.6" stroke="#333" stroke-width="0.5" opacity="0.7"/></g>
<g><circle cx="193.5" cy="204.6" r="4.6" fill="#1fb38a" fill-opacity="0.78" stroke="#2a2a2a" stroke-width="0.8"/><path d="M189.7 204.6h7.6M193.5 200.8v7.6" stroke="#333" stroke-width="0.5" opacity="0.7"/></g>
<g><rect x="198.3" y="281.7" width="9.4" height="9.4" fill="#48c367" fill-opacity="0.78" stroke="#2a2a2a" stroke-width="0.8"/><path d="M198.3 286.4h9.4M203.0 281.7v9.4" stroke="#333" stroke-width="0.5" opacity="0.7"/></g>
<g><rect x="156.1" y="258.6" width="9.4" height="9.4" fill="#1fb38a" fill-opacity="0.78" stroke="#2a2a2a" stroke-width="0.8"/><path d="M156.1 263.3h9.4M160.8 258.6v9.4" stroke="#333" stroke-width="0.5" opacity="0.7"/></g>
<g><rect x="158.8" y="280.2" width="9.4" height="9.4" fill="#581778" fill-opacity="0.78" stroke="#2a2a2a" stroke-width="0.8"/><path d="M158.8 284.9h9.4M163.5 280.2v9.4" stroke="#333" stroke-width="0.5" opacity="0.7"/></g>
<g><rect x="205.9" y="319.7" width="9.4" height="9.4" fill="#581778" fill-opacity="0.78" stroke="#2a2a2a" stroke-width="0.8"/><path d="M205.9 324.4h9.4M210.6 319.7v9.4" stroke="#333" stroke-width="0.5" opacity="0.7"/></g>
<g><rect x="214.6" y="312.5" width="9.4" height="9.4" fill="#581778" fill-opacity="0.78" stroke="#2a2a2a" stroke-width="0.8"/><path d="M214.6 317.2h9.4M219.3 312.5v9.4" stroke="#333" stroke-width="0.5" opacity="0.7"/></g>
<polygon points="122.5,247.0 127.9,257.6 117.1,257.6" fill="none" stroke="#f5a030" stroke-width="1.6"/>
<polygon points="151.2,267.0 157.7,277.7 151.2,288.4 144.7,277.7" fill="#f5e44a" stroke="#c43a35" stroke-width="2.2"/>
<path d="M146.2 277.7h10.0M151.2 269.0v17.4" stroke="#444" stroke-width="0.5" opacity="0.7"/>
<polygon points="250.1,322.3 251.8,326.3 256.1,326.7 252.8,329.5 253.8,333.7 250.1,331.4 246.4,333.7 247.4,329.5 244.1,326.7 248.4,326.3" fill="#581778" fill-opacity="0.78" stroke="#2a2a2a" stroke-width="0.8"/>
</g>
<g clip-path="url(#cp2)">
<path d="M241.5 426.3H257.0M250.1 401.2V464.7" stroke="#bdbdbd" stroke-width="1.4"/>
<path d="M171.0 386.7H185.0" stroke="#bdbdbd" stroke-width="1.4"/>
<path d="M195.5 447.9H212.0" stroke="#bdbdbd" stroke-width="1.4"/>
<path d="M203.1 447.9H219.6" stroke="#bdbdbd" stroke-width="1.4"/>
<path d="M211.8 440.2H228.3" stroke="#bdbdbd" stroke-width="1.4"/>
<g><circle cx="61.3" cy="379.2" r="4.6" fill="#1fb38a" fill-opacity="0.78" stroke="#2a2a2a" stroke-width="0.8"/><path d="M57.5 379.2h7.6M61.3 375.4v7.6" stroke="#333" stroke-width="0.5" opacity="0.7"/></g>
<g><circle cx="72.7" cy="381.7" r="4.6" fill="#581778" fill-opacity="0.78" stroke="#2a2a2a" stroke-width="0.8"/><path d="M68.9 381.7h7.6M72.7 377.9v7.6" stroke="#333" stroke-width="0.5" opacity="0.7"/></g>
<g><circle cx="74.2" cy="392.2" r="4.6" fill="#eee41f" fill-opacity="0.78" stroke="#2a2a2a" stroke-width="0.8"/><path d="M70.4 392.2h7.6M74.2 388.4v7.6" stroke="#333" stroke-width="0.5" opacity="0.7"/></g>
<g><circle cx="77.8" cy="376.8" r="4.6" fill="#581778" fill-opacity="0.78" stroke="#2a2a2a" stroke-width="0.8"/><path d="M74.0 376.8h7.6M77.8 373.0v7.6" stroke="#333" stroke-width="0.5" opacity="0.7"/></g>
<g><circle cx="81.6" cy="393.7" r="4.6" fill="#eee41f" fill-opacity="0.78" stroke="#2a2a2a" stroke-width="0.8"/><path d="M77.8 393.7h7.6M81.6 389.9v7.6" stroke="#333" stroke-width="0.5" opacity="0.7"/></g>
<g><circle cx="83.4" cy="396.0" r="4.6" fill="#eee41f" fill-opacity="0.78" stroke="#2a2a2a" stroke-width="0.8"/><path d="M79.6 396.0h7.6M83.4 392.2v7.6" stroke="#333" stroke-width="0.5" opacity="0.7"/></g>
<g><circle cx="87.2" cy="387.7" r="4.6" fill="#581778" fill-opacity="0.78" stroke="#2a2a2a" stroke-width="0.8"/><path d="M83.4 387.7h7.6M87.2 383.9v7.6" stroke="#333" stroke-width="0.5" opacity="0.7"/></g>
<g><circle cx="86.8" cy="395.2" r="4.6" fill="#67cd55" fill-opacity="0.78" stroke="#2a2a2a" stroke-width="0.8"/><path d="M83.0 395.2h7.6M86.8 391.4v7.6" stroke="#333" stroke-width="0.5" opacity="0.7"/></g>
<g><circle cx="89.1" cy="384.3" r="4.6" fill="#4069ae" fill-opacity="0.78" stroke="#2a2a2a" stroke-width="0.8"/><path d="M85.3 384.3h7.6M89.1 380.5v7.6" stroke="#333" stroke-width="0.5" opacity="0.7"/></g>
<g><circle cx="95.5" cy="375.7" r="4.6" fill="#581778" fill-opacity="0.78" stroke="#2a2a2a" stroke-width="0.8"/><path d="M91.7 375.7h7.6M95.5 371.9v7.6" stroke="#333" stroke-width="0.5" opacity="0.7"/></g>
<g><circle cx="95.1" cy="393.2" r="4.6" fill="#1fb38a" fill-opacity="0.78" stroke="#2a2a2a" stroke-width="0.8"/><path d="M91.3 393.2h7.6M95.1 389.4v7.6" stroke="#333" stroke-width="0.5" opacity="0.7"/></g>
<g><circle cx="99.3" cy="374.2" r="4.6" fill="#581778" fill-opacity="0.78" stroke="#2a2a2a" stroke-width="0.8"/><path d="M95.5 374.2h7.6M99.3 370.4v7.6" stroke="#333" stroke-width="0.5" opacity="0.7"/></g>
<g><circle cx="107.7" cy="391.0" r="4.6" fill="#eee41f" fill-opacity="0.78" stroke="#2a2a2a" stroke-width="0.8"/><path d="M103.9 391.0h7.6M107.7 387.2v7.6" stroke="#333" stroke-width="0.5" opacity="0.7"/></g>
<g><circle cx="102.2" cy="391.0" r="4.6" fill="#48c367" fill-opacity="0.78" stroke="#2a2a2a" stroke-width="0.8"/><path d="M98.4 391.0h7.6M102.2 387.2v7.6" stroke="#333" stroke-width="0.5" opacity="0.7"/></g>
<g><circle cx="104.7" cy="396.0" r="4.6" fill="#b9d20a" fill-opacity="0.78" stroke="#2a2a2a" stroke-width="0.8"/><path d="M100.9 396.0h7.6M104.7 392.2v7.6" stroke="#333" stroke-width="0.5" opacity="0.7"/></g>
<g><circle cx="104.5" cy="396.2" r="4.6" fill="#2c8cac" fill-opacity="0.78" stroke="#2a2a2a" stroke-width="0.8"/><path d="M100.7 396.2h7.6M104.5 392.4v7.6" stroke="#333" stroke-width="0.5" opacity="0.7"/></g>
<g><circle cx="125.0" cy="397.7" r="4.6" fill="#4069ae" fill-opacity="0.78" stroke="#2a2a2a" stroke-width="0.8"/><path d="M121.2 397.7h7.6M125.0 393.9v7.6" stroke="#333" stroke-width="0.5" opacity="0.7"/></g>
<g><circle cx="113.2" cy="400.0" r="4.6" fill="#1fb38a" fill-opacity="0.78" stroke="#2a2a2a" stroke-width="0.8"/><path d="M109.4 400.0h7.6M113.2 396.2v7.6" stroke="#333" stroke-width="0.5" opacity="0.7"/></g>
<g><circle cx="114.0" cy="396.6" r="4.6" fill="#67cd55" fill-opacity="0.78" stroke="#2a2a2a" stroke-width="0.8"/><path d="M110.2 396.6h7.6M114.0 392.8v7.6" stroke="#333" stroke-width="0.5" opacity="0.7"/></g>
<g><circle cx="123.2" cy="372.7" r="4.6" fill="#581778" fill-opacity="0.78" stroke="#2a2a2a" stroke-width="0.8"/><path d="M119.4 372.7h7.6M123.2 368.9v7.6" stroke="#333" stroke-width="0.5" opacity="0.7"/></g>
<g><circle cx="132.5" cy="389.5" r="4.6" fill="#2c8cac" fill-opacity="0.78" stroke="#2a2a2a" stroke-width="0.8"/><path d="M128.7 389.5h7.6M132.5 385.7v7.6" stroke="#333" stroke-width="0.5" opacity="0.7"/></g>
<g><circle cx="139.7" cy="408.2" r="4.6" fill="#eee41f" fill-opacity="0.78" stroke="#2a2a2a" stroke-width="0.8"/><path d="M135.9 408.2h7.6M139.7 404.4v7.6" stroke="#333" stroke-width="0.5" opacity="0.7"/></g>
<g><circle cx="177.7" cy="386.7" r="4.6" fill="#eee41f" fill-opacity="0.78" stroke="#2a2a2a" stroke-width="0.8"/><path d="M173.9 386.7h7.6M177.7 382.9v7.6" stroke="#333" stroke-width="0.5" opacity="0.7"/></g>
<g><circle cx="193.5" cy="370.0" r="4.6" fill="#1fb38a" fill-opacity="0.78" stroke="#2a2a2a" stroke-width="0.8"/><path d="M189.7 370.0h7.6M193.5 366.2v7.6" stroke="#333" stroke-width="0.5" opacity="0.7"/></g>
<g><rect x="198.3" y="443.2" width="9.4" height="9.4" fill="#48c367" fill-opacity="0.78" stroke="#2a2a2a" stroke-width="0.8"/><path d="M198.3 447.9h9.4M203.0 443.2v9.4" stroke="#333" stroke-width="0.5" opacity="0.7"/></g>
<g><rect x="156.1" y="409.9" width="9.4" height="9.4" fill="#1fb38a" fill-opacity="0.78" stroke="#2a2a2a" stroke-width="0.8"/><path d="M156.1 414.6h9.4M160.8 409.9v9.4" stroke="#333" stroke-width="0.5" opacity="0.7"/></g>
<g><rect x="158.8" y="426.7" width="9.4" height="9.4" fill="#581778" fill-opacity="0.78" stroke="#2a2a2a" stroke-width="0.8"/><path d="M158.8 431.4h9.4M163.5 426.7v9.4" stroke="#333" stroke-width="0.5" opacity="0.7"/></g>
<g><rect x="205.9" y="443.2" width="9.4" height="9.4" fill="#581778" fill-opacity="0.78" stroke="#2a2a2a" stroke-width="0.8"/><path d="M205.9 447.9h9.4M210.6 443.2v9.4" stroke="#333" stroke-width="0.5" opacity="0.7"/></g>
<g><rect x="214.6" y="435.5" width="9.4" height="9.4" fill="#581778" fill-opacity="0.78" stroke="#2a2a2a" stroke-width="0.8"/><path d="M214.6 440.2h9.4M219.3 435.5v9.4" stroke="#333" stroke-width="0.5" opacity="0.7"/></g>
<polygon points="122.5,446.0 127.9,456.6 117.1,456.6" fill="none" stroke="#f5a030" stroke-width="1.6"/>
<polygon points="151.2,423.4 157.7,434.1 151.2,444.8 144.7,434.1" fill="#f5e44a" stroke="#c43a35" stroke-width="2.2"/>
<path d="M146.2 434.1h10.0M151.2 425.4v17.4" stroke="#444" stroke-width="0.5" opacity="0.7"/>
<polygon points="250.1,420.3 251.8,424.3 256.1,424.7 252.8,427.5 253.8,431.7 250.1,429.4 246.4,431.7 247.4,427.5 244.1,424.7 248.4,424.3" fill="#581778" fill-opacity="0.78" stroke="#2a2a2a" stroke-width="0.8"/>
</g>
<rect x="207.0" y="9.2" width="61.5" height="40.6" rx="2" fill="#fff" fill-opacity="0.8" stroke="#d4d4d4" stroke-width="0.8"/>
<circle cx="218.2" cy="16.2" r="4.8" fill="none" stroke="#222" stroke-width="0.9"/>
<rect x="213.9" y="25.1" width="8.6" height="8.6" fill="none" stroke="#222" stroke-width="0.9"/>
<polygon points="218.2,37.3 219.7,41.2 223.8,41.4 220.6,44.0 221.7,48.0 218.2,45.7 214.7,48.0 215.8,44.0 212.6,41.4 216.7,41.2" fill="none" stroke="#222" stroke-width="0.9"/>
<rect x="44.9" y="140.6" width="127.3" height="33" rx="2" fill="#fff" fill-opacity="0.8" stroke="#d4d4d4" stroke-width="0.8"/>
<polygon points="56.9,137.2 63.4,147.4 56.9,157.6 50.4,147.4" fill="#f5e44a" stroke="#c43a35" stroke-width="2.2"/>
<polygon points="56.9,162.2 62.0,171.2 51.8,171.2" fill="none" stroke="#f5a030" stroke-width="1.7"/>
<path d="M41.6 165.4h-5M272.1 165.4h5M41.6 128.4h-5M272.1 128.4h5M41.6 42.4h-5M272.1 42.4h5M88.9 5.7v-5M226.2 5.7v-5M41.6 319.4h-5M272.1 319.4h5M41.6 297.6h-5M272.1 297.6h5M41.6 267.0h-5M272.1 267.0h5M41.6 228.4h-5M272.1 228.4h5M88.9 177.5v-5M226.2 177.5v-5M41.6 504.8h-5M272.1 504.8h5M41.6 455.7h-5M272.1 455.7h5M41.6 427.0h-5M272.1 427.0h5M41.6 406.6h-5M272.1 406.6h5M41.6 390.8h-5M272.1 390.8h5M41.6 377.9h-5M272.1 377.9h5M41.6 367.0h-5M272.1 367.0h5M41.6 357.5h-5M272.1 357.5h5M88.9 349.3v-5M226.2 349.3v-5M88.9 521.0v5M226.2 521.0v5" stroke="#000" stroke-width="1.1" fill="none"/>
<path d="M41.6 177.3h-2.3M272.1 177.3h2.3M41.6 155.7h-2.3M272.1 155.7h2.3M41.6 147.5h-2.3M272.1 147.5h2.3M41.6 140.3h-2.3M272.1 140.3h2.3M41.6 134.0h-2.3M272.1 134.0h2.3M41.6 91.4h-2.3M272.1 91.4h2.3M41.6 69.7h-2.3M272.1 69.7h2.3M41.6 54.3h-2.3M272.1 54.3h2.3M41.6 32.7h-2.3M272.1 32.7h2.3M41.6 24.5h-2.3M272.1 24.5h2.3M41.6 17.3h-2.3M272.1 17.3h2.3M41.6 11.0h-2.3M272.1 11.0h2.3M47.6 5.7v-2.3M58.4 5.7v-2.3M67.6 5.7v-2.3M75.6 5.7v-2.3M82.6 5.7v-2.3M130.2 5.7v-2.3M154.4 5.7v-2.3M171.6 5.7v-2.3M184.9 5.7v-2.3M195.7 5.7v-2.3M204.9 5.7v-2.3M212.9 5.7v-2.3M219.9 5.7v-2.3M267.5 5.7v-2.3M41.6 280.8h-2.3M272.1 280.8h2.3M41.6 255.4h-2.3M272.1 255.4h2.3M41.6 245.3h-2.3M272.1 245.3h2.3M41.6 236.4h-2.3M272.1 236.4h2.3M47.6 177.5v-2.3M58.4 177.5v-2.3M67.6 177.5v-2.3M75.6 177.5v-2.3M82.6 177.5v-2.3M130.2 177.5v-2.3M154.4 177.5v-2.3M171.6 177.5v-2.3M184.9 177.5v-2.3M195.7 177.5v-2.3M204.9 177.5v-2.3M212.9 177.5v-2.3M219.9 177.5v-2.3M267.5 177.5v-2.3M41.6 512.3h-2.3M272.1 512.3h2.3M41.6 349.2h-2.3M272.1 349.2h2.3M47.6 349.3v-2.3M58.4 349.3v-2.3M67.6 349.3v-2.3M75.6 349.3v-2.3M82.6 349.3v-2.3M130.2 349.3v-2.3M154.4 349.3v-2.3M171.6 349.3v-2.3M184.9 349.3v-2.3M195.7 349.3v-2.3M204.9 349.3v-2.3M212.9 349.3v-2.3M219.9 349.3v-2.3M267.5 349.3v-2.3M47.6 521.0v2.3M58.4 521.0v2.3M67.6 521.0v2.3M75.6 521.0v2.3M82.6 521.0v2.3M130.2 521.0v2.3M154.4 521.0v2.3M171.6 521.0v2.3M184.9 521.0v2.3M195.7 521.0v2.3M204.9 521.0v2.3M212.9 521.0v2.3M219.9 521.0v2.3M267.5 521.0v2.3" stroke="#000" stroke-width="0.8" fill="none"/>
<path d="M41.6 5.7H272.1V521.0H41.6ZM41.6 177.5H272.1M41.6 349.3H272.1" stroke="#000" stroke-width="1.4" fill="none"/>
<rect x="287.0" y="5.7" width="8.3" height="171.8" fill="url(#vir)" stroke="#000" stroke-width="1.7"/>
<path d="M295.3 177.5h2.6M295.3 95.4h2.6M295.3 13.3h2.6" stroke="#000" stroke-width="1"/>
<path d="M295.3 161.1h1.4M295.3 144.7h1.4M295.3 128.2h1.4M295.3 111.8h1.4M295.3 79.0h1.4M295.3 62.6h1.4M295.3 46.1h1.4M295.3 29.7h1.4" stroke="#000" stroke-width="0.6"/>
<rect x="287.0" y="177.5" width="8.3" height="171.8" fill="url(#vir)" stroke="#000" stroke-width="1.7"/>
<path d="M295.3 349.3h2.6M295.3 267.2h2.6M295.3 185.1h2.6" stroke="#000" stroke-width="1"/>
<path d="M295.3 332.9h1.4M295.3 316.5h1.4M295.3 300.0h1.4M295.3 283.6h1.4M295.3 250.8h1.4M295.3 234.4h1.4M295.3 217.9h1.4M295.3 201.5h1.4" stroke="#000" stroke-width="0.6"/>
<rect x="287.0" y="349.3" width="8.3" height="171.7" fill="url(#vir)" stroke="#000" stroke-width="1.7"/>
<path d="M295.3 521.0h2.6M295.3 438.9h2.6M295.3 356.8h2.6" stroke="#000" stroke-width="1"/>
<path d="M295.3 504.6h1.4M295.3 488.2h1.4M295.3 471.7h1.4M295.3 455.3h1.4M295.3 422.5h1.4M295.3 406.1h1.4M295.3 389.6h1.4M295.3 373.2h1.4" stroke="#000" stroke-width="0.6"/>
<g fill="#111" stroke="#111" stroke-width="0.10">
<text transform="translate(25.08 169.43) scale(1.221 1)" font-size="11.6">5</text>
<text transform="translate(18.08 132.40) scale(1.220 1)" font-size="11.6">10</text>
<text transform="translate(18.94 46.43) scale(1.143 1)" font-size="11.6">50</text>
<text transform="translate(15.52 354.02) scale(1.163 1)" font-size="11.6">0.2</text>
<text transform="translate(15.31 323.38) scale(1.178 1)" font-size="11.6">0.3</text>
<text transform="translate(15.32 301.64) scale(1.156 1)" font-size="11.6">0.4</text>
<text transform="translate(15.01 271.00) scale(1.178 1)" font-size="11.6">0.6</text>
<text transform="translate(26.36 232.65) scale(1.035 1)" font-size="11.6">1</text>
<text transform="translate(26.24 509.05) scale(1.059 1)" font-size="11.6">1</text>
<text transform="translate(25.39 459.95) scale(1.221 1)" font-size="11.6">2</text>
<text transform="translate(24.98 430.98) scale(1.240 1)" font-size="11.6">3</text>
<text transform="translate(25.32 410.85) scale(1.127 1)" font-size="11.6">4</text>
<text transform="translate(24.62 394.80) scale(1.305 1)" font-size="11.6">5</text>
<text transform="translate(24.98 381.88) scale(1.240 1)" font-size="11.6">6</text>
<text transform="translate(24.62 371.21) scale(1.305 1)" font-size="11.6">7</text>
<text transform="translate(24.98 361.51) scale(1.240 1)" font-size="11.6">8</text>
<text transform="translate(80.22 538.65) scale(1.155 1)" font-size="11.6">0.1</text>
<text transform="translate(217.82 538.65) scale(1.177 1)" font-size="11.6">1.0</text>
<text transform="translate(302.02 182.25) scale(1.105 1)" font-size="11.6">9.5</text>
<text transform="translate(302.03 100.15) scale(1.086 1)" font-size="11.6">9.6</text>
<text transform="translate(302.03 18.05) scale(1.086 1)" font-size="11.6">9.7</text>
<text transform="translate(302.02 354.05) scale(1.105 1)" font-size="11.6">9.5</text>
<text transform="translate(302.03 271.95) scale(1.086 1)" font-size="11.6">9.6</text>
<text transform="translate(302.03 189.85) scale(1.086 1)" font-size="11.6">9.7</text>
<text transform="translate(302.02 525.75) scale(1.105 1)" font-size="11.6">9.5</text>
<text transform="translate(302.03 443.65) scale(1.086 1)" font-size="11.6">9.6</text>
<text transform="translate(302.03 361.55) scale(1.086 1)" font-size="11.6">9.7</text>
<text transform="translate(43.87 18.15) scale(1.259 1)" font-size="13.1" stroke-width="0.00">(a)</text>
<text transform="translate(43.80 190.45) scale(1.207 1)" font-size="13.1" stroke-width="0.00">(b)</text>
<text transform="translate(43.78 362.25) scale(1.244 1)" font-size="13.1" stroke-width="0.00">(c)</text>
<text transform="translate(117.29 551.55) scale(1.079 1)" font-size="12" stroke-width="0.20">[NeIII] / [NeII]</text>
<text transform="translate(13.60 147.93) rotate(-90) scale(1.067 1)" font-size="12" stroke-width="0.20">&#931;PAH / (NeII + NeIII)</text>
<text transform="translate(11.00 327.97) rotate(-90) scale(1.088 1)" font-size="12" stroke-width="0.20">PAH 3.3 / (NeII + NeIII)</text>
<text transform="translate(20.50 488.36) rotate(-90) scale(1.056 1)" font-size="12" stroke-width="0.20">PAH 3.3 / &#931;PAH (%)</text>
<text transform="translate(329.40 358.98) rotate(-90) scale(1.125 1)" font-size="10.8" stroke-width="0.20">log(&#931;PAH<tspan dy="-4" font-size="7.5">+</tspan><tspan dy="4"> Surface Density [L</tspan><tspan dy="2.5" font-size="7.5">&#8857;</tspan><tspan dy="-2.5">/kpc</tspan><tspan dy="-4" font-size="7.5">2</tspan><tspan dy="4">])</tspan></text>
<text transform="translate(231.42 19.05) scale(1.037 1)" font-size="10">SF ring</text>
<text transform="translate(231.69 32.25) scale(1.016 1)" font-size="10">Gap</text>
<text transform="translate(231.95 45.35) scale(1.014 1)" font-size="10">Nucleus</text>
<text transform="translate(70.95 150.30) scale(0.986 1)" font-size="10">FoV (r=1.6")</text>
<text transform="translate(70.96 168.95) scale(0.965 1)" font-size="10">N7469 (AKARI+Spitzer)</text>
</g>
</svg></body></html>
